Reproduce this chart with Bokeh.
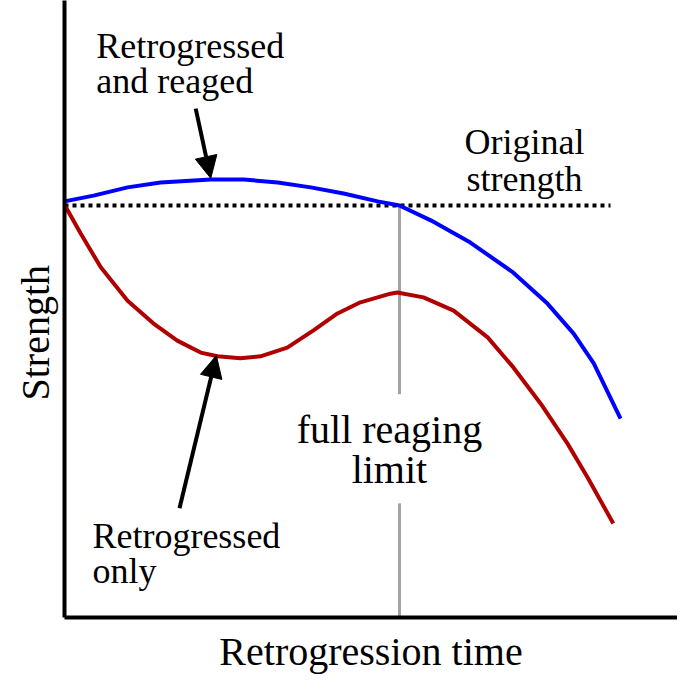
from bokeh.plotting import figure
from bokeh.models import Range1d, FixedTicker, Label, Arrow, NormalHead, Title
from bokeh.embed import file_html
from bokeh.resources import INLINE

# ---- data (arbitrary units) ----
blue_x = [0.00, 0.52, 1.13, 1.72, 2.62, 3.21, 3.82, 4.41, 5.00, 5.61, 6.00, 6.56, 7.27, 8.04, 8.65, 9.12, 9.48, 9.96]
blue_y = [101.0, 102.4, 104.4, 105.6, 106.3, 106.3, 105.6, 104.4, 102.9, 101.0, 100.0, 96.4, 91.0, 83.7, 76.2, 68.9, 61.7, 48.3]

red_x = [0.00, 0.29, 0.65, 1.13, 1.59, 2.02, 2.44, 2.74, 3.15, 3.51, 3.99, 4.46, 4.89, 5.30, 5.84, 5.96,
         6.43, 6.97, 7.58, 8.04, 8.53, 9.01, 9.37, 9.83]
red_y = [100.2, 93.2, 85.0, 76.9, 71.4, 67.2, 64.3, 63.4, 62.9, 63.4, 65.5, 69.7, 73.8, 76.5, 78.6, 78.9,
         77.7, 74.5, 68.0, 60.7, 51.9, 42.2, 34.0, 22.8]

original_strength = 100.0
original_x = [0.0, 9.78]
reaging_limit_x = 6.0
reaging_upper = [54.2, 100.0]
reaging_lower = [0.0, 27.7]

FONT = "Liberation Serif"

p = figure(width=677, height=677, output_backend="svg", toolbar_location=None,
           x_range=Range1d(0, 10.98), y_range=Range1d(0, 149.76),
           min_border_left=64, min_border_right=0, min_border_top=0, min_border_bottom=60)
p.outline_line_color = None
p.grid.visible = False
p.background_fill_color = "white"
p.border_fill_color = "white"

for ax in (p.xaxis[0], p.yaxis[0]):
    ax.ticker = FixedTicker(ticks=[])
    ax.axis_line_width = 4
    ax.axis_line_color = "black"
    ax.major_tick_line_color = None
    ax.minor_tick_line_color = None
    ax.major_tick_out = 0
    ax.major_tick_in = 0
    ax.minor_tick_out = 0
    ax.minor_tick_in = 0
    ax.major_label_text_font_size = "0px"
    ax.major_label_standoff = 0
    ax.axis_label_text_font = FONT
    ax.axis_label_text_font_style = "normal"
    ax.axis_label_text_color = "black"
    ax.axis_label_text_font_size = "40px"

p.xaxis.axis_label = "Retrogression time"
p.xaxis.axis_label_standoff = 11

# y-axis label as a side title so it can sit slightly below the frame centre
p.add_layout(Title(text="Strength", align="left", offset=217, standoff=10,
                   vertical_align="top",
                   text_font=FONT, text_font_size="40px", text_font_style="normal",
                   text_color="black"), "left")

# reference lines
p.line(original_x, [original_strength, original_strength], line_color="black",
       line_width=4, line_dash="4 4")
p.line([reaging_limit_x, reaging_limit_x], reaging_upper, line_color="#a3a3a3", line_width=3)
p.line([reaging_limit_x, reaging_limit_x], reaging_lower, line_color="#a3a3a3", line_width=3)

# curves
p.line(blue_x, blue_y, line_color="#0000ff", line_width=4, line_join="round")
p.line(red_x, red_y, line_color="#b00000", line_width=4, line_join="round")

# arrows
p.add_layout(Arrow(x_start=2.35, y_start=123.5, x_end=2.62, y_end=106.6, line_width=4,
                   end=NormalHead(size=22, fill_color="black", line_color="black")))
p.add_layout(Arrow(x_start=2.06, y_start=26.5, x_end=2.72, y_end=63.6, line_width=4,
                   end=NormalHead(size=22, fill_color="black", line_color="black")))

def lab(text, x, y, size, align="left"):
    p.add_layout(Label(x=x, y=y, text=text, text_font=FONT, text_font_size=f"{size}px",
                       text_align=align, text_baseline="alphabetic", text_color="black"))

lab("Retrogressed", 0.57, 138.8, 36)
lab("and reaged", 0.57, 130.3, 36)
lab("Original", 8.24, 115.3, 36, "center")
lab("strength", 8.24, 106.5, 36, "center")
lab("full reaging", 5.82, 45.7, 40, "center")
lab("limit", 5.82, 36.0, 40, "center")
lab("Retrogressed", 0.50, 19.9, 36)
lab("only", 0.50, 11.4, 36)

open("out.html", "w").write(file_html(p, INLINE))
